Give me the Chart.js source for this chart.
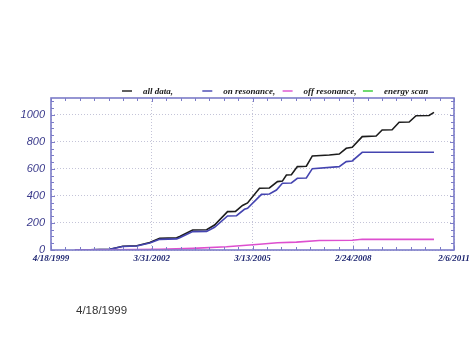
<!DOCTYPE html>
<html>
<head>
<meta charset="utf-8">
<script src="https://cdn.jsdelivr.net/npm/chart.js@4/dist/chart.umd.min.js"></script>
<style>
  html, body { margin: 0; padding: 0; background: #ffffff; }
  #wrap { position: relative; width: 474px; height: 355px; }
  #c { position: absolute; left: 0; top: 0; }
  #caption { position: absolute; left: 76px; top: 304px; font: 11.5px "Liberation Sans", Arial, sans-serif; color: #333; }
</style>
</head>
<body>
<div id="wrap">
  <canvas id="c" width="474" height="355"></canvas>
  <div id="caption">4/18/1999</div>
</div>
<script>
// Days counted from 4/18/1999
const seriesNames = ['all data,', 'on resonance,', 'off resonance,', 'energy scan'];
const seriesColors = ['#1c1c1c', '#4444b0', '#dd4fcf', '#33cc33'];

const allDataDays   = [256, 416, 630, 768, 918, 1057, 1163, 1345, 1377, 1516, 1665, 1750, 1889, 1974, 2049, 2103, 2231, 2337, 2423, 2476, 2519, 2572, 2636, 2732, 2796, 2978, 3084, 3159, 3223, 3330, 3479, 3543, 3650, 3725, 3832, 3906, 4045, 4098];
const allDataValues = [0, 2, 6, 28, 32, 55, 87, 90, 100, 148, 150, 185, 284, 286, 330, 348, 457, 459, 506, 510, 555, 557, 617, 620, 696, 703, 710, 753, 760, 839, 844, 888, 890, 945, 947, 994, 996, 1019];

const onResDays   = [256, 416, 630, 768, 918, 1057, 1163, 1345, 1377, 1516, 1665, 1750, 1889, 1985, 2070, 2103, 2252, 2337, 2412, 2476, 2572, 2636, 2732, 2796, 3084, 3159, 3223, 3330, 4098];
const onResValues = [0, 2, 6, 26, 30, 52, 79, 82, 91, 136, 138, 168, 252, 254, 301, 309, 412, 415, 444, 494, 496, 531, 533, 602, 617, 654, 659, 723, 723];

const offResDays   = [256, 630, 1163, 1516, 1878, 2231, 2423, 2626, 2871, 3223, 3330, 4098];
const offResValues = [0, 1, 5, 12, 24, 42, 54, 58, 70, 72, 79, 79];

const energyScanDays = [];
const energyScanValues = [];

const xTickDays   = [0, 1078, 2156, 3234, 4312];
const xTickLabels = ['4/18/1999', '3/31/2002', '3/13/2005', '2/24/2008', '2/6/2011'];
const yTickValues = [0, 200, 400, 600, 800, 1000];

function pts(days, vals) { return days.map((d, i) => ({ x: d, y: vals[i] })); }

const frameColor = '#7c7cc8';

const framePlugin = {
  id: 'frameTicks',
  afterDatasetsDraw(chart) {
    const { ctx, chartArea: a, scales } = chart;
    const xs = scales.x, ys = scales.y;
    ctx.save();
    ctx.strokeStyle = frameColor;
    ctx.lineWidth = 1;
    for (let d = 0; d <= 4312 + 0.1; d += 154) {
      const px = Math.round(xs.getPixelForValue(d)) + 0.5;
      const major = xTickDays.some(t => Math.abs(t - d) < 1);
      const len = major ? 4 : 3;
      ctx.beginPath();
      ctx.moveTo(px, a.bottom); ctx.lineTo(px, a.bottom - len);
      ctx.moveTo(px, a.top); ctx.lineTo(px, a.top + len);
      ctx.stroke();
    }
    for (let v = 0; v <= 1100; v += 50) {
      const py = Math.round(ys.getPixelForValue(v)) + 0.5;
      const major = v % 200 === 0;
      const len = major ? 4 : 3;
      ctx.beginPath();
      ctx.moveTo(a.left, py); ctx.lineTo(a.left + len, py);
      ctx.moveTo(a.right, py); ctx.lineTo(a.right - len, py);
      ctx.stroke();
    }
    ctx.lineWidth = 1.6;
    ctx.strokeRect(a.left, a.top, a.right - a.left, a.bottom - a.top);
    // legend
    ctx.font = 'italic bold 9px "Liberation Serif", serif';
    ctx.textBaseline = 'middle';
    ctx.textAlign = 'left';
    seriesNames.forEach((name, i) => {
      const x0 = a.left + 71 + i * 80.3;
      const y0 = a.top - 7;
      ctx.strokeStyle = seriesColors[i];
      ctx.lineWidth = 1.4;
      ctx.beginPath();
      ctx.moveTo(x0, y0); ctx.lineTo(x0 + 10, y0);
      ctx.stroke();
      ctx.fillStyle = '#1a1a1a';
      ctx.fillText(name, x0 + 21, y0 + 0.5);
    });
    ctx.restore();
  }
};

new Chart(document.getElementById('c'), {
  type: 'line',
  data: {
    datasets: [
      { label: seriesNames[3], data: pts(energyScanDays, energyScanValues), borderColor: seriesColors[3] },
      { label: seriesNames[2], data: pts(offResDays, offResValues), borderColor: seriesColors[2] },
      { label: seriesNames[1], data: pts(onResDays, onResValues), borderColor: seriesColors[1] },
      { label: seriesNames[0], data: pts(allDataDays, allDataValues), borderColor: seriesColors[0] }
    ].map(ds => Object.assign(ds, { borderWidth: 1.6, pointRadius: 0, tension: 0, fill: false }))
  },
  options: {
    responsive: false,
    animation: false,
    devicePixelRatio: 1,
    layout: { padding: { left: 0, right: 20, top: 98, bottom: 0 } },
    plugins: { legend: { display: false }, tooltip: { enabled: false } },
    scales: {
      x: {
        type: 'linear',
        min: 0, max: 4312,
        afterBuildTicks: s => { s.ticks = xTickDays.map(v => ({ value: v })); },
        afterFit: s => { s.height = 105; },
        grid: { color: '#c4c4d8', drawTicks: false, lineWidth: 1 },
        border: { display: false, dash: [1, 2] },
        ticks: {
          padding: 3,
          maxRotation: 0,
          autoSkip: false,
          color: '#1c2470',
          font: { family: '"Liberation Serif", serif', size: 9, style: 'italic', weight: 'bold' },
          callback: v => { const i = xTickDays.indexOf(v); return i >= 0 ? xTickLabels[i] : ''; }
        }
      },
      y: {
        min: 0, max: 1125,
        afterBuildTicks: s => { s.ticks = yTickValues.map(v => ({ value: v })); },
        afterFit: s => { s.width = 51; },
        grid: { color: '#c4c4d8', drawTicks: false, lineWidth: 1 },
        border: { display: false, dash: [1, 2] },
        ticks: {
          padding: 6,
          color: '#3b3b8c',
          font: { family: '"Liberation Sans", Arial, sans-serif', size: 11, style: 'italic' },
          callback: v => String(v)
        }
      }
    }
  },
  plugins: [framePlugin]
});
</script>
</body>
</html>
